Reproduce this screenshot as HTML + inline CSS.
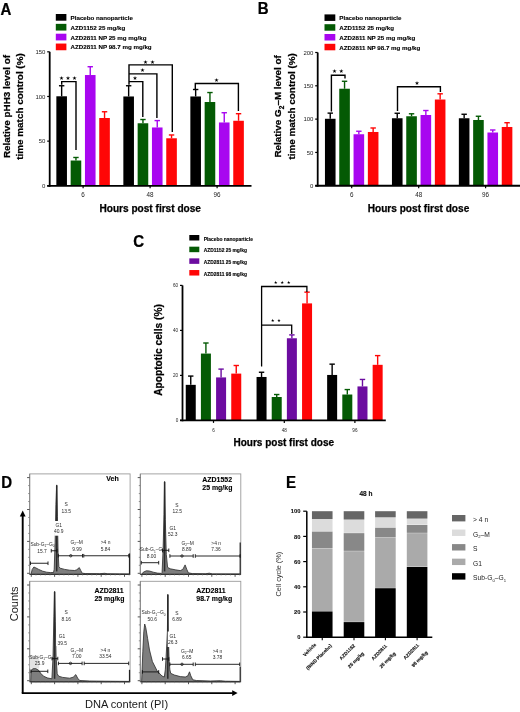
<!DOCTYPE html>
<html><head><meta charset="utf-8"><style>
html,body{margin:0;padding:0;background:#fff;}
svg{display:block;font-family:'Liberation Sans', Arial, sans-serif;}
text.h{stroke:#000;stroke-width:0.25px;}
text.h2{stroke:#000;stroke-width:0.12px;}
</style></head><body>
<svg width="520" height="712" viewBox="0 0 520 712">
<rect width="520" height="712" fill="#fff"/>
<text class="h" x="0" y="0" font-size="16" font-weight="bold" fill="#000" transform="translate(0.40 14.60) scale(0.94 1)">A</text>
<rect x="55.80" y="14.00" width="10.60" height="6.70" fill="#000000"/>
<text class="h2" x="70.60" y="19.90" font-size="6.2" font-weight="bold" text-anchor="start" fill="#000">Placebo nanoparticle</text>
<rect x="55.80" y="23.85" width="10.60" height="6.70" fill="#045a04"/>
<text class="h2" x="70.60" y="29.75" font-size="6.2" font-weight="bold" text-anchor="start" fill="#000">AZD1152 25 mg/kg</text>
<rect x="55.80" y="33.70" width="10.60" height="6.70" fill="#a806f0"/>
<text class="h2" x="70.60" y="39.60" font-size="6.2" font-weight="bold" text-anchor="start" fill="#000">AZD2811 NP 25 mg mg/kg</text>
<rect x="55.80" y="43.55" width="10.60" height="6.70" fill="#ff0606"/>
<text class="h2" x="70.60" y="49.45" font-size="6.2" font-weight="bold" text-anchor="start" fill="#000">AZD2811 NP 98.7 mg mg/kg</text>
<rect x="56.35" y="96.29" width="10.60" height="89.51" fill="#000000"/>
<line x1="61.65" y1="96.29" x2="61.65" y2="85.75" stroke="#000000" stroke-width="1.4"/>
<line x1="58.95" y1="85.75" x2="64.35" y2="85.75" stroke="#000000" stroke-width="1.4"/>
<rect x="70.65" y="160.52" width="10.60" height="25.28" fill="#045a04"/>
<line x1="75.95" y1="160.52" x2="75.95" y2="157.48" stroke="#045a04" stroke-width="1.4"/>
<line x1="73.25" y1="157.48" x2="78.65" y2="157.48" stroke="#045a04" stroke-width="1.4"/>
<rect x="84.95" y="75.03" width="10.60" height="110.77" fill="#a806f0"/>
<line x1="90.25" y1="75.03" x2="90.25" y2="66.72" stroke="#a806f0" stroke-width="1.4"/>
<line x1="87.55" y1="66.72" x2="92.95" y2="66.72" stroke="#a806f0" stroke-width="1.4"/>
<rect x="99.25" y="118.00" width="10.60" height="67.80" fill="#ff0606"/>
<line x1="104.55" y1="118.00" x2="104.55" y2="111.75" stroke="#ff0606" stroke-width="1.4"/>
<line x1="101.85" y1="111.75" x2="107.25" y2="111.75" stroke="#ff0606" stroke-width="1.4"/>
<rect x="123.35" y="96.47" width="10.60" height="89.33" fill="#000000"/>
<line x1="128.65" y1="96.47" x2="128.65" y2="85.75" stroke="#000000" stroke-width="1.4"/>
<line x1="125.95" y1="85.75" x2="131.35" y2="85.75" stroke="#000000" stroke-width="1.4"/>
<rect x="137.65" y="123.27" width="10.60" height="62.53" fill="#045a04"/>
<line x1="142.95" y1="123.27" x2="142.95" y2="119.52" stroke="#045a04" stroke-width="1.4"/>
<line x1="140.25" y1="119.52" x2="145.65" y2="119.52" stroke="#045a04" stroke-width="1.4"/>
<rect x="151.95" y="127.47" width="10.60" height="58.33" fill="#a806f0"/>
<line x1="157.25" y1="127.47" x2="157.25" y2="120.59" stroke="#a806f0" stroke-width="1.4"/>
<line x1="154.55" y1="120.59" x2="159.95" y2="120.59" stroke="#a806f0" stroke-width="1.4"/>
<rect x="166.25" y="138.28" width="10.60" height="47.52" fill="#ff0606"/>
<line x1="171.55" y1="138.28" x2="171.55" y2="134.97" stroke="#ff0606" stroke-width="1.4"/>
<line x1="168.85" y1="134.97" x2="174.25" y2="134.97" stroke="#ff0606" stroke-width="1.4"/>
<rect x="190.35" y="96.47" width="10.60" height="89.33" fill="#000000"/>
<line x1="195.65" y1="96.47" x2="195.65" y2="89.50" stroke="#000000" stroke-width="1.4"/>
<line x1="192.95" y1="89.50" x2="198.35" y2="89.50" stroke="#000000" stroke-width="1.4"/>
<rect x="204.65" y="102.01" width="10.60" height="83.79" fill="#045a04"/>
<line x1="209.95" y1="102.01" x2="209.95" y2="92.54" stroke="#045a04" stroke-width="1.4"/>
<line x1="207.25" y1="92.54" x2="212.65" y2="92.54" stroke="#045a04" stroke-width="1.4"/>
<rect x="218.95" y="122.47" width="10.60" height="63.33" fill="#a806f0"/>
<line x1="224.25" y1="122.47" x2="224.25" y2="112.73" stroke="#a806f0" stroke-width="1.4"/>
<line x1="221.55" y1="112.73" x2="226.95" y2="112.73" stroke="#a806f0" stroke-width="1.4"/>
<rect x="233.25" y="120.77" width="10.60" height="65.03" fill="#ff0606"/>
<line x1="238.55" y1="120.77" x2="238.55" y2="113.71" stroke="#ff0606" stroke-width="1.4"/>
<line x1="235.85" y1="113.71" x2="241.25" y2="113.71" stroke="#ff0606" stroke-width="1.4"/>
<line x1="49.70" y1="51.81" x2="49.70" y2="186.70" stroke="#000" stroke-width="1.8"/>
<line x1="47.20" y1="185.80" x2="251.50" y2="185.80" stroke="#000" stroke-width="1.8"/>
<line x1="47.20" y1="185.80" x2="49.70" y2="185.80" stroke="#000" stroke-width="1.2"/>
<text x="45.40" y="187.96" font-size="6.0" font-weight="normal" text-anchor="end" fill="#222">0</text>
<line x1="47.20" y1="141.14" x2="49.70" y2="141.14" stroke="#000" stroke-width="1.2"/>
<text x="45.40" y="143.30" font-size="6.0" font-weight="normal" text-anchor="end" fill="#222">50</text>
<line x1="47.20" y1="96.47" x2="49.70" y2="96.47" stroke="#000" stroke-width="1.2"/>
<text x="45.40" y="98.63" font-size="6.0" font-weight="normal" text-anchor="end" fill="#222">100</text>
<line x1="47.20" y1="51.81" x2="49.70" y2="51.81" stroke="#000" stroke-width="1.2"/>
<text x="45.40" y="53.97" font-size="6.0" font-weight="normal" text-anchor="end" fill="#222">150</text>
<line x1="83.10" y1="185.80" x2="83.10" y2="188.30" stroke="#000" stroke-width="1.2"/>
<text x="83.10" y="197.00" font-size="6.3" font-weight="normal" text-anchor="middle" fill="#222">6</text>
<line x1="150.10" y1="185.80" x2="150.10" y2="188.30" stroke="#000" stroke-width="1.2"/>
<text x="150.10" y="197.00" font-size="6.3" font-weight="normal" text-anchor="middle" fill="#222">48</text>
<line x1="217.10" y1="185.80" x2="217.10" y2="188.30" stroke="#000" stroke-width="1.2"/>
<text x="217.10" y="197.00" font-size="6.3" font-weight="normal" text-anchor="middle" fill="#222">96</text>
<path d="M61.7,84.75 V81.65 H76.0 V150" fill="none" stroke="#000" stroke-width="1.4"/>
<text x="61.60" y="79.82" font-size="5.6" font-family="DejaVu Sans" text-anchor="middle" fill="#000">★</text>
<text x="68.00" y="79.82" font-size="5.6" font-family="DejaVu Sans" text-anchor="middle" fill="#000">★</text>
<text x="74.60" y="79.82" font-size="5.6" font-family="DejaVu Sans" text-anchor="middle" fill="#000">★</text>
<path d="M129.0,84.75 V64.9 H172.3 V132" fill="none" stroke="#000" stroke-width="1.4"/>
<path d="M129.0,73.9 H156.9 V118" fill="none" stroke="#000" stroke-width="1.4"/>
<path d="M129.0,81.65 H142.8 V117" fill="none" stroke="#000" stroke-width="1.4"/>
<text x="145.60" y="63.52" font-size="5.6" font-family="DejaVu Sans" text-anchor="middle" fill="#000">★</text>
<text x="152.40" y="63.52" font-size="5.6" font-family="DejaVu Sans" text-anchor="middle" fill="#000">★</text>
<text x="142.40" y="72.12" font-size="5.6" font-family="DejaVu Sans" text-anchor="middle" fill="#000">★</text>
<text x="135.10" y="80.22" font-size="5.6" font-family="DejaVu Sans" text-anchor="middle" fill="#000">★</text>
<path d="M195.3,89 V83.5 H238.4 V111" fill="none" stroke="#000" stroke-width="1.4"/>
<text x="216.60" y="82.12" font-size="5.6" font-family="DejaVu Sans" text-anchor="middle" fill="#000">★</text>
<text class="h" x="10.30" y="106.50" font-size="9.9" font-weight="bold" text-anchor="middle" fill="#000" transform="rotate(-90 10.3 106.5)">Relative pHH3 level of</text>
<text class="h" x="23.00" y="106.50" font-size="9.9" font-weight="bold" text-anchor="middle" fill="#000" transform="rotate(-90 23.0 106.5)">time match control (%)</text>
<text class="h" x="150.20" y="212.40" font-size="10.1" font-weight="bold" text-anchor="middle" fill="#000">Hours post first dose</text>
<text class="h" x="0" y="0" font-size="16" font-weight="bold" fill="#000" transform="translate(257.80 13.50) scale(0.94 1)">B</text>
<rect x="324.50" y="14.40" width="10.80" height="6.50" fill="#000000"/>
<text class="h2" x="339.30" y="20.30" font-size="6.2" font-weight="bold" text-anchor="start" fill="#000">Placebo nanoparticle</text>
<rect x="324.50" y="24.20" width="10.80" height="6.50" fill="#045a04"/>
<text class="h2" x="339.30" y="30.10" font-size="6.2" font-weight="bold" text-anchor="start" fill="#000">AZD1152 25 mg/kg</text>
<rect x="324.50" y="34.00" width="10.80" height="6.50" fill="#a806f0"/>
<text class="h2" x="339.30" y="39.90" font-size="6.2" font-weight="bold" text-anchor="start" fill="#000">AZD2811 NP 25 mg mg/kg</text>
<rect x="324.50" y="43.80" width="10.80" height="6.50" fill="#ff0606"/>
<text class="h2" x="339.30" y="49.70" font-size="6.2" font-weight="bold" text-anchor="start" fill="#000">AZD2811 NP 98.7 mg mg/kg</text>
<rect x="324.95" y="118.79" width="10.60" height="66.96" fill="#000000"/>
<line x1="330.25" y1="118.79" x2="330.25" y2="113.12" stroke="#000000" stroke-width="1.4"/>
<line x1="327.55" y1="113.12" x2="332.95" y2="113.12" stroke="#000000" stroke-width="1.4"/>
<rect x="339.25" y="88.74" width="10.60" height="97.01" fill="#045a04"/>
<line x1="344.55" y1="88.74" x2="344.55" y2="81.27" stroke="#045a04" stroke-width="1.4"/>
<line x1="341.85" y1="81.27" x2="347.25" y2="81.27" stroke="#045a04" stroke-width="1.4"/>
<rect x="353.55" y="134.25" width="10.60" height="51.50" fill="#a806f0"/>
<line x1="358.85" y1="134.25" x2="358.85" y2="131.25" stroke="#a806f0" stroke-width="1.4"/>
<line x1="356.15" y1="131.25" x2="361.55" y2="131.25" stroke="#a806f0" stroke-width="1.4"/>
<rect x="367.85" y="131.98" width="10.60" height="53.77" fill="#ff0606"/>
<line x1="373.15" y1="131.98" x2="373.15" y2="127.98" stroke="#ff0606" stroke-width="1.4"/>
<line x1="370.45" y1="127.98" x2="375.85" y2="127.98" stroke="#ff0606" stroke-width="1.4"/>
<rect x="391.95" y="118.25" width="10.60" height="67.50" fill="#000000"/>
<line x1="397.25" y1="118.25" x2="397.25" y2="113.26" stroke="#000000" stroke-width="1.4"/>
<line x1="394.55" y1="113.26" x2="399.95" y2="113.26" stroke="#000000" stroke-width="1.4"/>
<rect x="406.25" y="116.25" width="10.60" height="69.50" fill="#045a04"/>
<line x1="411.55" y1="116.25" x2="411.55" y2="113.79" stroke="#045a04" stroke-width="1.4"/>
<line x1="408.85" y1="113.79" x2="414.25" y2="113.79" stroke="#045a04" stroke-width="1.4"/>
<rect x="420.55" y="114.99" width="10.60" height="70.76" fill="#a806f0"/>
<line x1="425.85" y1="114.99" x2="425.85" y2="110.52" stroke="#a806f0" stroke-width="1.4"/>
<line x1="423.15" y1="110.52" x2="428.55" y2="110.52" stroke="#a806f0" stroke-width="1.4"/>
<rect x="434.85" y="99.53" width="10.60" height="86.22" fill="#ff0606"/>
<line x1="440.15" y1="99.53" x2="440.15" y2="93.80" stroke="#ff0606" stroke-width="1.4"/>
<line x1="437.45" y1="93.80" x2="442.85" y2="93.80" stroke="#ff0606" stroke-width="1.4"/>
<rect x="458.85" y="118.25" width="10.60" height="67.50" fill="#000000"/>
<line x1="464.15" y1="118.25" x2="464.15" y2="114.26" stroke="#000000" stroke-width="1.4"/>
<line x1="461.45" y1="114.26" x2="466.85" y2="114.26" stroke="#000000" stroke-width="1.4"/>
<rect x="473.15" y="119.99" width="10.60" height="65.76" fill="#045a04"/>
<line x1="478.45" y1="119.99" x2="478.45" y2="116.25" stroke="#045a04" stroke-width="1.4"/>
<line x1="475.75" y1="116.25" x2="481.15" y2="116.25" stroke="#045a04" stroke-width="1.4"/>
<rect x="487.45" y="132.51" width="10.60" height="53.24" fill="#a806f0"/>
<line x1="492.75" y1="132.51" x2="492.75" y2="129.98" stroke="#a806f0" stroke-width="1.4"/>
<line x1="490.05" y1="129.98" x2="495.45" y2="129.98" stroke="#a806f0" stroke-width="1.4"/>
<rect x="501.75" y="126.98" width="10.60" height="58.77" fill="#ff0606"/>
<line x1="507.05" y1="126.98" x2="507.05" y2="122.72" stroke="#ff0606" stroke-width="1.4"/>
<line x1="504.35" y1="122.72" x2="509.75" y2="122.72" stroke="#ff0606" stroke-width="1.4"/>
<line x1="317.70" y1="52.49" x2="317.70" y2="186.65" stroke="#000" stroke-width="1.8"/>
<line x1="315.20" y1="185.75" x2="520.00" y2="185.75" stroke="#000" stroke-width="1.8"/>
<line x1="315.20" y1="185.75" x2="317.70" y2="185.75" stroke="#000" stroke-width="1.2"/>
<text x="313.40" y="187.91" font-size="6.0" font-weight="normal" text-anchor="end" fill="#222">0</text>
<line x1="315.20" y1="152.44" x2="317.70" y2="152.44" stroke="#000" stroke-width="1.2"/>
<text x="313.40" y="154.59" font-size="6.0" font-weight="normal" text-anchor="end" fill="#222">50</text>
<line x1="315.20" y1="119.12" x2="317.70" y2="119.12" stroke="#000" stroke-width="1.2"/>
<text x="313.40" y="121.28" font-size="6.0" font-weight="normal" text-anchor="end" fill="#222">100</text>
<line x1="315.20" y1="85.80" x2="317.70" y2="85.80" stroke="#000" stroke-width="1.2"/>
<text x="313.40" y="87.96" font-size="6.0" font-weight="normal" text-anchor="end" fill="#222">150</text>
<line x1="315.20" y1="52.49" x2="317.70" y2="52.49" stroke="#000" stroke-width="1.2"/>
<text x="313.40" y="54.65" font-size="6.0" font-weight="normal" text-anchor="end" fill="#222">200</text>
<line x1="351.70" y1="185.75" x2="351.70" y2="188.25" stroke="#000" stroke-width="1.2"/>
<text x="351.70" y="196.95" font-size="6.3" font-weight="normal" text-anchor="middle" fill="#222">6</text>
<line x1="418.70" y1="185.75" x2="418.70" y2="188.25" stroke="#000" stroke-width="1.2"/>
<text x="418.70" y="196.95" font-size="6.3" font-weight="normal" text-anchor="middle" fill="#222">48</text>
<line x1="485.60" y1="185.75" x2="485.60" y2="188.25" stroke="#000" stroke-width="1.2"/>
<text x="485.60" y="196.95" font-size="6.3" font-weight="normal" text-anchor="middle" fill="#222">96</text>
<path d="M331.4,111.5 V75.2 H345.0 V78.6" fill="none" stroke="#000" stroke-width="1.4"/>
<text x="334.60" y="73.12" font-size="5.6" font-family="DejaVu Sans" text-anchor="middle" fill="#000">★</text>
<text x="341.20" y="73.12" font-size="5.6" font-family="DejaVu Sans" text-anchor="middle" fill="#000">★</text>
<path d="M397.5,111 V86.8 H440.4 V92" fill="none" stroke="#000" stroke-width="1.4"/>
<text x="417.10" y="84.82" font-size="5.6" font-family="DejaVu Sans" text-anchor="middle" fill="#000">★</text>
<text class="h" x="281.40" y="106.30" font-size="9.9" font-weight="bold" text-anchor="middle" fill="#000" transform="rotate(-90 281.4 106.3)">Relative G<tspan dy="2.2" font-size="6.5">2</tspan><tspan dy="-2.2">–M level of</tspan></text>
<text class="h" x="295.00" y="106.30" font-size="9.9" font-weight="bold" text-anchor="middle" fill="#000" transform="rotate(-90 295 106.3)">time match control (%)</text>
<text class="h" x="418.50" y="212.40" font-size="10.1" font-weight="bold" text-anchor="middle" fill="#000">Hours post first dose</text>
<text class="h" x="0" y="0" font-size="16" font-weight="bold" fill="#000" transform="translate(133.20 246.60) scale(0.94 1)">C</text>
<rect x="189.30" y="235.00" width="10.00" height="5.50" fill="#000000"/>
<text class="h2" x="203.70" y="240.60" font-size="4.9" font-weight="bold" text-anchor="start" fill="#000">Placebo nanoparticle</text>
<rect x="189.30" y="246.68" width="10.00" height="5.50" fill="#045a04"/>
<text class="h2" x="203.70" y="252.28" font-size="4.9" font-weight="bold" text-anchor="start" fill="#000">AZD1152 25 mg/kg</text>
<rect x="189.30" y="258.36" width="10.00" height="5.50" fill="#6c0ca0"/>
<text class="h2" x="203.70" y="263.96" font-size="4.9" font-weight="bold" text-anchor="start" fill="#000">AZD2811 25 mg/kg</text>
<rect x="189.30" y="270.04" width="10.00" height="5.50" fill="#ff0606"/>
<text class="h2" x="203.70" y="275.64" font-size="4.9" font-weight="bold" text-anchor="start" fill="#000">AZD2811 98 mg/kg</text>
<rect x="185.75" y="384.85" width="10.00" height="35.55" fill="#000000"/>
<line x1="190.75" y1="384.85" x2="190.75" y2="376.07" stroke="#000000" stroke-width="1.4"/>
<line x1="188.05" y1="376.07" x2="193.44" y2="376.07" stroke="#000000" stroke-width="1.4"/>
<rect x="200.91" y="353.57" width="10.00" height="66.82" fill="#045a04"/>
<line x1="205.91" y1="353.57" x2="205.91" y2="343.00" stroke="#045a04" stroke-width="1.4"/>
<line x1="203.22" y1="343.00" x2="208.61" y2="343.00" stroke="#045a04" stroke-width="1.4"/>
<rect x="216.09" y="377.42" width="10.00" height="42.98" fill="#6c0ca0"/>
<line x1="221.09" y1="377.42" x2="221.09" y2="369.10" stroke="#6c0ca0" stroke-width="1.4"/>
<line x1="218.39" y1="369.10" x2="223.78" y2="369.10" stroke="#6c0ca0" stroke-width="1.4"/>
<rect x="231.25" y="373.60" width="10.00" height="46.80" fill="#ff0606"/>
<line x1="236.25" y1="373.60" x2="236.25" y2="365.50" stroke="#ff0606" stroke-width="1.4"/>
<line x1="233.56" y1="365.50" x2="238.95" y2="365.50" stroke="#ff0606" stroke-width="1.4"/>
<rect x="256.55" y="376.97" width="10.00" height="43.43" fill="#000000"/>
<line x1="261.55" y1="376.97" x2="261.55" y2="372.25" stroke="#000000" stroke-width="1.4"/>
<line x1="258.85" y1="372.25" x2="264.25" y2="372.25" stroke="#000000" stroke-width="1.4"/>
<rect x="271.72" y="397.00" width="10.00" height="23.40" fill="#045a04"/>
<line x1="276.72" y1="397.00" x2="276.72" y2="394.52" stroke="#045a04" stroke-width="1.4"/>
<line x1="274.02" y1="394.52" x2="279.42" y2="394.52" stroke="#045a04" stroke-width="1.4"/>
<rect x="286.88" y="338.27" width="10.00" height="82.12" fill="#6c0ca0"/>
<line x1="291.88" y1="338.27" x2="291.88" y2="334.90" stroke="#6c0ca0" stroke-width="1.4"/>
<line x1="289.19" y1="334.90" x2="294.58" y2="334.90" stroke="#6c0ca0" stroke-width="1.4"/>
<rect x="302.06" y="303.40" width="10.00" height="117.00" fill="#ff0606"/>
<line x1="307.06" y1="303.40" x2="307.06" y2="292.15" stroke="#ff0606" stroke-width="1.4"/>
<line x1="304.36" y1="292.15" x2="309.75" y2="292.15" stroke="#ff0606" stroke-width="1.4"/>
<rect x="327.14" y="374.95" width="10.00" height="45.45" fill="#000000"/>
<line x1="332.14" y1="374.95" x2="332.14" y2="364.15" stroke="#000000" stroke-width="1.4"/>
<line x1="329.44" y1="364.15" x2="334.84" y2="364.15" stroke="#000000" stroke-width="1.4"/>
<rect x="342.31" y="394.52" width="10.00" height="25.88" fill="#045a04"/>
<line x1="347.31" y1="394.52" x2="347.31" y2="389.57" stroke="#045a04" stroke-width="1.4"/>
<line x1="344.62" y1="389.57" x2="350.01" y2="389.57" stroke="#045a04" stroke-width="1.4"/>
<rect x="357.48" y="386.42" width="10.00" height="33.98" fill="#6c0ca0"/>
<line x1="362.48" y1="386.42" x2="362.48" y2="379.45" stroke="#6c0ca0" stroke-width="1.4"/>
<line x1="359.78" y1="379.45" x2="365.18" y2="379.45" stroke="#6c0ca0" stroke-width="1.4"/>
<rect x="372.65" y="364.82" width="10.00" height="55.57" fill="#ff0606"/>
<line x1="377.65" y1="364.82" x2="377.65" y2="355.60" stroke="#ff0606" stroke-width="1.4"/>
<line x1="374.95" y1="355.60" x2="380.35" y2="355.60" stroke="#ff0606" stroke-width="1.4"/>
<line x1="182.50" y1="285.40" x2="182.50" y2="421.30" stroke="#000" stroke-width="1.8"/>
<line x1="180.00" y1="420.40" x2="385.80" y2="420.40" stroke="#000" stroke-width="1.8"/>
<line x1="180.00" y1="420.40" x2="182.50" y2="420.40" stroke="#000" stroke-width="1.2"/>
<text x="178.20" y="422.06" font-size="4.6" font-weight="normal" text-anchor="end" fill="#222">0</text>
<line x1="180.00" y1="375.40" x2="182.50" y2="375.40" stroke="#000" stroke-width="1.2"/>
<text x="178.20" y="377.06" font-size="4.6" font-weight="normal" text-anchor="end" fill="#222">20</text>
<line x1="180.00" y1="330.40" x2="182.50" y2="330.40" stroke="#000" stroke-width="1.2"/>
<text x="178.20" y="332.06" font-size="4.6" font-weight="normal" text-anchor="end" fill="#222">40</text>
<line x1="180.00" y1="285.40" x2="182.50" y2="285.40" stroke="#000" stroke-width="1.2"/>
<text x="178.20" y="287.06" font-size="4.6" font-weight="normal" text-anchor="end" fill="#222">60</text>
<line x1="213.50" y1="420.40" x2="213.50" y2="422.90" stroke="#000" stroke-width="1.2"/>
<text x="213.50" y="431.70" font-size="4.6" font-weight="normal" text-anchor="middle" fill="#222">6</text>
<line x1="284.30" y1="420.40" x2="284.30" y2="422.90" stroke="#000" stroke-width="1.2"/>
<text x="284.30" y="431.70" font-size="4.6" font-weight="normal" text-anchor="middle" fill="#222">48</text>
<line x1="354.90" y1="420.40" x2="354.90" y2="422.90" stroke="#000" stroke-width="1.2"/>
<text x="354.90" y="431.70" font-size="4.6" font-weight="normal" text-anchor="middle" fill="#222">96</text>
<path d="M261.6,366.5 V286.5 H306.9 V292" fill="none" stroke="#000" stroke-width="1.3"/>
<path d="M261.6,325.2 H291.7 V334" fill="none" stroke="#000" stroke-width="1.3"/>
<text x="275.80" y="284.38" font-size="4.4" font-family="DejaVu Sans" text-anchor="middle" fill="#000">★</text>
<text x="282.30" y="284.38" font-size="4.4" font-family="DejaVu Sans" text-anchor="middle" fill="#000">★</text>
<text x="288.70" y="284.38" font-size="4.4" font-family="DejaVu Sans" text-anchor="middle" fill="#000">★</text>
<text x="272.70" y="322.38" font-size="4.4" font-family="DejaVu Sans" text-anchor="middle" fill="#000">★</text>
<text x="278.90" y="322.38" font-size="4.4" font-family="DejaVu Sans" text-anchor="middle" fill="#000">★</text>
<text class="h" x="162.30" y="350.00" font-size="10.2" font-weight="bold" text-anchor="middle" fill="#000" transform="rotate(-90 162.3 350)">Apoptotic cells  (%)</text>
<text class="h" x="283.80" y="445.80" font-size="10.0" font-weight="bold" text-anchor="middle" fill="#000">Hours post first dose</text>
<text class="h" x="0" y="0" font-size="16" font-weight="bold" fill="#000" transform="translate(1.20 487.50) scale(0.94 1)">D</text>
<rect x="29.70" y="473.90" width="100.40" height="100.50" fill="none" stroke="#9a9a9a" stroke-width="0.9"/>
<line x1="29.70" y1="473.90" x2="29.70" y2="574.40" stroke="#777" stroke-width="0.8"/>
<line x1="27.10" y1="573.30" x2="29.70" y2="573.30" stroke="#555" stroke-width="1.0"/>
<line x1="28.20" y1="565.32" x2="29.70" y2="565.32" stroke="#777" stroke-width="0.8"/>
<line x1="28.20" y1="557.35" x2="29.70" y2="557.35" stroke="#777" stroke-width="0.8"/>
<line x1="28.20" y1="549.38" x2="29.70" y2="549.38" stroke="#777" stroke-width="0.8"/>
<line x1="27.10" y1="541.40" x2="29.70" y2="541.40" stroke="#555" stroke-width="1.0"/>
<line x1="28.20" y1="533.42" x2="29.70" y2="533.42" stroke="#777" stroke-width="0.8"/>
<line x1="28.20" y1="525.45" x2="29.70" y2="525.45" stroke="#777" stroke-width="0.8"/>
<line x1="28.20" y1="517.48" x2="29.70" y2="517.48" stroke="#777" stroke-width="0.8"/>
<line x1="27.10" y1="509.50" x2="29.70" y2="509.50" stroke="#555" stroke-width="1.0"/>
<line x1="28.20" y1="501.52" x2="29.70" y2="501.52" stroke="#777" stroke-width="0.8"/>
<line x1="28.20" y1="493.55" x2="29.70" y2="493.55" stroke="#777" stroke-width="0.8"/>
<line x1="28.20" y1="485.57" x2="29.70" y2="485.57" stroke="#777" stroke-width="0.8"/>
<line x1="27.10" y1="477.60" x2="29.70" y2="477.60" stroke="#555" stroke-width="1.0"/>
<path d="M31.00,574.40 L31.00,574.40 L32.20,569.40 L33.90,567.00 L35.70,567.80 L38.70,569.40 L42.70,571.20 L46.70,572.20 L50.70,572.60 L53.50,572.50 L54.20,569.40 L55.10,542.40 L55.90,504.40 L56.70,484.90 L57.40,516.40 L58.10,552.40 L58.90,566.90 L60.20,568.20 L64.70,569.40 L69.70,570.20 L74.70,570.50 L76.70,569.80 L79.30,567.60 L80.70,570.40 L82.20,573.20 L85.70,573.60 L99.70,573.70 L104.70,573.30 L107.70,573.80 L119.70,573.90 L129.30,574.00 L129.30,574.40 Z" fill="#7e7e7e" stroke="#2a2a2a" stroke-width="0.8" stroke-linejoin="round"/>
<line x1="56.70" y1="485.40" x2="56.70" y2="571.40" stroke="#2a2a2a" stroke-width="1.5"/>
<line x1="129.50" y1="553.40" x2="129.50" y2="574.40" stroke="#222" stroke-width="1.2"/>
<line x1="29.70" y1="574.40" x2="130.10" y2="574.40" stroke="#333" stroke-width="1.1"/>
<line x1="31.30" y1="574.40" x2="31.30" y2="576.80" stroke="#444" stroke-width="0.9"/>
<line x1="35.96" y1="574.40" x2="35.96" y2="575.70" stroke="#888" stroke-width="0.6"/>
<line x1="40.62" y1="574.40" x2="40.62" y2="575.70" stroke="#888" stroke-width="0.6"/>
<line x1="45.28" y1="574.40" x2="45.28" y2="575.70" stroke="#888" stroke-width="0.6"/>
<line x1="49.94" y1="574.40" x2="49.94" y2="575.70" stroke="#888" stroke-width="0.6"/>
<line x1="54.60" y1="574.40" x2="54.60" y2="576.80" stroke="#444" stroke-width="0.9"/>
<line x1="59.26" y1="574.40" x2="59.26" y2="575.70" stroke="#888" stroke-width="0.6"/>
<line x1="63.92" y1="574.40" x2="63.92" y2="575.70" stroke="#888" stroke-width="0.6"/>
<line x1="68.58" y1="574.40" x2="68.58" y2="575.70" stroke="#888" stroke-width="0.6"/>
<line x1="73.24" y1="574.40" x2="73.24" y2="575.70" stroke="#888" stroke-width="0.6"/>
<line x1="77.90" y1="574.40" x2="77.90" y2="576.80" stroke="#444" stroke-width="0.9"/>
<line x1="82.56" y1="574.40" x2="82.56" y2="575.70" stroke="#888" stroke-width="0.6"/>
<line x1="87.22" y1="574.40" x2="87.22" y2="575.70" stroke="#888" stroke-width="0.6"/>
<line x1="91.88" y1="574.40" x2="91.88" y2="575.70" stroke="#888" stroke-width="0.6"/>
<line x1="96.54" y1="574.40" x2="96.54" y2="575.70" stroke="#888" stroke-width="0.6"/>
<line x1="101.20" y1="574.40" x2="101.20" y2="576.80" stroke="#444" stroke-width="0.9"/>
<line x1="105.86" y1="574.40" x2="105.86" y2="575.70" stroke="#888" stroke-width="0.6"/>
<line x1="110.52" y1="574.40" x2="110.52" y2="575.70" stroke="#888" stroke-width="0.6"/>
<line x1="115.18" y1="574.40" x2="115.18" y2="575.70" stroke="#888" stroke-width="0.6"/>
<line x1="119.84" y1="574.40" x2="119.84" y2="575.70" stroke="#888" stroke-width="0.6"/>
<line x1="124.50" y1="574.40" x2="124.50" y2="576.80" stroke="#444" stroke-width="0.9"/>
<line x1="129.16" y1="574.40" x2="129.16" y2="575.70" stroke="#888" stroke-width="0.6"/>
<rect x="140.30" y="473.90" width="100.50" height="100.50" fill="none" stroke="#9a9a9a" stroke-width="0.9"/>
<line x1="140.30" y1="473.90" x2="140.30" y2="574.40" stroke="#777" stroke-width="0.8"/>
<line x1="137.70" y1="573.30" x2="140.30" y2="573.30" stroke="#555" stroke-width="1.0"/>
<line x1="138.80" y1="565.32" x2="140.30" y2="565.32" stroke="#777" stroke-width="0.8"/>
<line x1="138.80" y1="557.35" x2="140.30" y2="557.35" stroke="#777" stroke-width="0.8"/>
<line x1="138.80" y1="549.38" x2="140.30" y2="549.38" stroke="#777" stroke-width="0.8"/>
<line x1="137.70" y1="541.40" x2="140.30" y2="541.40" stroke="#555" stroke-width="1.0"/>
<line x1="138.80" y1="533.42" x2="140.30" y2="533.42" stroke="#777" stroke-width="0.8"/>
<line x1="138.80" y1="525.45" x2="140.30" y2="525.45" stroke="#777" stroke-width="0.8"/>
<line x1="138.80" y1="517.48" x2="140.30" y2="517.48" stroke="#777" stroke-width="0.8"/>
<line x1="137.70" y1="509.50" x2="140.30" y2="509.50" stroke="#555" stroke-width="1.0"/>
<line x1="138.80" y1="501.52" x2="140.30" y2="501.52" stroke="#777" stroke-width="0.8"/>
<line x1="138.80" y1="493.55" x2="140.30" y2="493.55" stroke="#777" stroke-width="0.8"/>
<line x1="138.80" y1="485.57" x2="140.30" y2="485.57" stroke="#777" stroke-width="0.8"/>
<line x1="137.70" y1="477.60" x2="140.30" y2="477.60" stroke="#555" stroke-width="1.0"/>
<path d="M141.60,574.40 L141.60,574.40 L143.30,572.20 L146.30,570.80 L149.30,571.00 L153.30,572.20 L157.30,573.10 L161.30,573.40 L162.10,572.40 L163.10,549.40 L164.00,514.40 L164.60,481.40 L165.30,519.40 L166.30,554.40 L167.60,567.40 L170.30,568.80 L175.30,569.80 L180.30,570.60 L182.80,569.40 L185.10,564.90 L186.80,569.40 L188.30,572.80 L192.30,573.60 L205.30,573.80 L209.30,573.20 L212.30,573.90 L239.90,574.00 L239.90,574.40 Z" fill="#7e7e7e" stroke="#2a2a2a" stroke-width="0.8" stroke-linejoin="round"/>
<line x1="164.60" y1="481.90" x2="164.60" y2="571.40" stroke="#2a2a2a" stroke-width="1.5"/>
<line x1="240.20" y1="542.40" x2="240.20" y2="574.40" stroke="#222" stroke-width="1.2"/>
<line x1="140.30" y1="574.40" x2="240.80" y2="574.40" stroke="#333" stroke-width="1.1"/>
<line x1="141.90" y1="574.40" x2="141.90" y2="576.80" stroke="#444" stroke-width="0.9"/>
<line x1="146.56" y1="574.40" x2="146.56" y2="575.70" stroke="#888" stroke-width="0.6"/>
<line x1="151.22" y1="574.40" x2="151.22" y2="575.70" stroke="#888" stroke-width="0.6"/>
<line x1="155.88" y1="574.40" x2="155.88" y2="575.70" stroke="#888" stroke-width="0.6"/>
<line x1="160.54" y1="574.40" x2="160.54" y2="575.70" stroke="#888" stroke-width="0.6"/>
<line x1="165.20" y1="574.40" x2="165.20" y2="576.80" stroke="#444" stroke-width="0.9"/>
<line x1="169.86" y1="574.40" x2="169.86" y2="575.70" stroke="#888" stroke-width="0.6"/>
<line x1="174.52" y1="574.40" x2="174.52" y2="575.70" stroke="#888" stroke-width="0.6"/>
<line x1="179.18" y1="574.40" x2="179.18" y2="575.70" stroke="#888" stroke-width="0.6"/>
<line x1="183.84" y1="574.40" x2="183.84" y2="575.70" stroke="#888" stroke-width="0.6"/>
<line x1="188.50" y1="574.40" x2="188.50" y2="576.80" stroke="#444" stroke-width="0.9"/>
<line x1="193.16" y1="574.40" x2="193.16" y2="575.70" stroke="#888" stroke-width="0.6"/>
<line x1="197.82" y1="574.40" x2="197.82" y2="575.70" stroke="#888" stroke-width="0.6"/>
<line x1="202.48" y1="574.40" x2="202.48" y2="575.70" stroke="#888" stroke-width="0.6"/>
<line x1="207.14" y1="574.40" x2="207.14" y2="575.70" stroke="#888" stroke-width="0.6"/>
<line x1="211.80" y1="574.40" x2="211.80" y2="576.80" stroke="#444" stroke-width="0.9"/>
<line x1="216.46" y1="574.40" x2="216.46" y2="575.70" stroke="#888" stroke-width="0.6"/>
<line x1="221.12" y1="574.40" x2="221.12" y2="575.70" stroke="#888" stroke-width="0.6"/>
<line x1="225.78" y1="574.40" x2="225.78" y2="575.70" stroke="#888" stroke-width="0.6"/>
<line x1="230.44" y1="574.40" x2="230.44" y2="575.70" stroke="#888" stroke-width="0.6"/>
<line x1="235.10" y1="574.40" x2="235.10" y2="576.80" stroke="#444" stroke-width="0.9"/>
<line x1="239.76" y1="574.40" x2="239.76" y2="575.70" stroke="#888" stroke-width="0.6"/>
<rect x="29.70" y="581.30" width="100.40" height="100.50" fill="none" stroke="#9a9a9a" stroke-width="0.9"/>
<line x1="29.70" y1="581.30" x2="29.70" y2="681.80" stroke="#777" stroke-width="0.8"/>
<line x1="27.10" y1="680.70" x2="29.70" y2="680.70" stroke="#555" stroke-width="1.0"/>
<line x1="28.20" y1="672.72" x2="29.70" y2="672.72" stroke="#777" stroke-width="0.8"/>
<line x1="28.20" y1="664.75" x2="29.70" y2="664.75" stroke="#777" stroke-width="0.8"/>
<line x1="28.20" y1="656.77" x2="29.70" y2="656.77" stroke="#777" stroke-width="0.8"/>
<line x1="27.10" y1="648.80" x2="29.70" y2="648.80" stroke="#555" stroke-width="1.0"/>
<line x1="28.20" y1="640.82" x2="29.70" y2="640.82" stroke="#777" stroke-width="0.8"/>
<line x1="28.20" y1="632.85" x2="29.70" y2="632.85" stroke="#777" stroke-width="0.8"/>
<line x1="28.20" y1="624.88" x2="29.70" y2="624.88" stroke="#777" stroke-width="0.8"/>
<line x1="27.10" y1="616.90" x2="29.70" y2="616.90" stroke="#555" stroke-width="1.0"/>
<line x1="28.20" y1="608.92" x2="29.70" y2="608.92" stroke="#777" stroke-width="0.8"/>
<line x1="28.20" y1="600.95" x2="29.70" y2="600.95" stroke="#777" stroke-width="0.8"/>
<line x1="28.20" y1="592.98" x2="29.70" y2="592.98" stroke="#777" stroke-width="0.8"/>
<line x1="27.10" y1="585.00" x2="29.70" y2="585.00" stroke="#555" stroke-width="1.0"/>
<rect x="29.7" y="655.5" width="9.5" height="13" fill="#e2e2e2"/>
<path d="M30.70,681.80 L30.70,681.80 L31.00,670.80 L32.70,668.80 L35.70,668.60 L38.70,670.30 L40.70,673.30 L43.70,676.30 L47.70,678.00 L51.90,678.80 L53.00,656.80 L53.90,616.80 L54.60,591.30 L55.30,621.80 L56.10,656.80 L57.20,673.80 L58.70,676.20 L62.70,677.40 L69.70,678.20 L73.20,677.20 L75.80,674.60 L77.70,678.20 L79.70,680.50 L89.70,681.00 L104.70,681.20 L129.30,681.40 L129.30,681.80 Z" fill="#7e7e7e" stroke="#2a2a2a" stroke-width="0.8" stroke-linejoin="round"/>
<line x1="54.60" y1="591.80" x2="54.60" y2="678.80" stroke="#2a2a2a" stroke-width="1.5"/>
<line x1="129.50" y1="669.80" x2="129.50" y2="681.80" stroke="#222" stroke-width="1.2"/>
<line x1="29.70" y1="681.80" x2="130.10" y2="681.80" stroke="#333" stroke-width="1.1"/>
<line x1="31.30" y1="681.80" x2="31.30" y2="684.20" stroke="#444" stroke-width="0.9"/>
<line x1="35.96" y1="681.80" x2="35.96" y2="683.10" stroke="#888" stroke-width="0.6"/>
<line x1="40.62" y1="681.80" x2="40.62" y2="683.10" stroke="#888" stroke-width="0.6"/>
<line x1="45.28" y1="681.80" x2="45.28" y2="683.10" stroke="#888" stroke-width="0.6"/>
<line x1="49.94" y1="681.80" x2="49.94" y2="683.10" stroke="#888" stroke-width="0.6"/>
<line x1="54.60" y1="681.80" x2="54.60" y2="684.20" stroke="#444" stroke-width="0.9"/>
<line x1="59.26" y1="681.80" x2="59.26" y2="683.10" stroke="#888" stroke-width="0.6"/>
<line x1="63.92" y1="681.80" x2="63.92" y2="683.10" stroke="#888" stroke-width="0.6"/>
<line x1="68.58" y1="681.80" x2="68.58" y2="683.10" stroke="#888" stroke-width="0.6"/>
<line x1="73.24" y1="681.80" x2="73.24" y2="683.10" stroke="#888" stroke-width="0.6"/>
<line x1="77.90" y1="681.80" x2="77.90" y2="684.20" stroke="#444" stroke-width="0.9"/>
<line x1="82.56" y1="681.80" x2="82.56" y2="683.10" stroke="#888" stroke-width="0.6"/>
<line x1="87.22" y1="681.80" x2="87.22" y2="683.10" stroke="#888" stroke-width="0.6"/>
<line x1="91.88" y1="681.80" x2="91.88" y2="683.10" stroke="#888" stroke-width="0.6"/>
<line x1="96.54" y1="681.80" x2="96.54" y2="683.10" stroke="#888" stroke-width="0.6"/>
<line x1="101.20" y1="681.80" x2="101.20" y2="684.20" stroke="#444" stroke-width="0.9"/>
<line x1="105.86" y1="681.80" x2="105.86" y2="683.10" stroke="#888" stroke-width="0.6"/>
<line x1="110.52" y1="681.80" x2="110.52" y2="683.10" stroke="#888" stroke-width="0.6"/>
<line x1="115.18" y1="681.80" x2="115.18" y2="683.10" stroke="#888" stroke-width="0.6"/>
<line x1="119.84" y1="681.80" x2="119.84" y2="683.10" stroke="#888" stroke-width="0.6"/>
<line x1="124.50" y1="681.80" x2="124.50" y2="684.20" stroke="#444" stroke-width="0.9"/>
<line x1="129.16" y1="681.80" x2="129.16" y2="683.10" stroke="#888" stroke-width="0.6"/>
<rect x="140.30" y="581.30" width="100.50" height="100.50" fill="none" stroke="#9a9a9a" stroke-width="0.9"/>
<line x1="140.30" y1="581.30" x2="140.30" y2="681.80" stroke="#777" stroke-width="0.8"/>
<line x1="137.70" y1="680.70" x2="140.30" y2="680.70" stroke="#555" stroke-width="1.0"/>
<line x1="138.80" y1="672.72" x2="140.30" y2="672.72" stroke="#777" stroke-width="0.8"/>
<line x1="138.80" y1="664.75" x2="140.30" y2="664.75" stroke="#777" stroke-width="0.8"/>
<line x1="138.80" y1="656.77" x2="140.30" y2="656.77" stroke="#777" stroke-width="0.8"/>
<line x1="137.70" y1="648.80" x2="140.30" y2="648.80" stroke="#555" stroke-width="1.0"/>
<line x1="138.80" y1="640.82" x2="140.30" y2="640.82" stroke="#777" stroke-width="0.8"/>
<line x1="138.80" y1="632.85" x2="140.30" y2="632.85" stroke="#777" stroke-width="0.8"/>
<line x1="138.80" y1="624.88" x2="140.30" y2="624.88" stroke="#777" stroke-width="0.8"/>
<line x1="137.70" y1="616.90" x2="140.30" y2="616.90" stroke="#555" stroke-width="1.0"/>
<line x1="138.80" y1="608.92" x2="140.30" y2="608.92" stroke="#777" stroke-width="0.8"/>
<line x1="138.80" y1="600.95" x2="140.30" y2="600.95" stroke="#777" stroke-width="0.8"/>
<line x1="138.80" y1="592.98" x2="140.30" y2="592.98" stroke="#777" stroke-width="0.8"/>
<line x1="137.70" y1="585.00" x2="140.30" y2="585.00" stroke="#555" stroke-width="1.0"/>
<path d="M141.60,681.80 L141.60,681.80 L142.80,651.80 L143.80,631.80 L144.70,624.00 L145.80,627.80 L147.60,638.50 L149.50,650.00 L152.40,661.50 L157.20,671.00 L162.00,676.00 L164.30,677.00 L165.30,669.80 L166.10,656.80 L166.80,643.80 L167.40,631.80 L167.80,594.30 L168.20,631.80 L168.70,646.80 L169.20,661.80 L169.90,669.80 L170.70,673.30 L174.30,675.00 L180.30,676.60 L185.30,677.00 L187.80,675.80 L189.50,671.80 L190.80,675.80 L192.80,679.80 L196.30,680.50 L210.30,681.00 L220.30,680.70 L225.30,681.20 L239.90,681.40 L239.90,681.80 Z" fill="#7e7e7e" stroke="#2a2a2a" stroke-width="0.8" stroke-linejoin="round"/>
<line x1="167.80" y1="594.80" x2="167.80" y2="678.80" stroke="#2a2a2a" stroke-width="1.5"/>
<line x1="240.20" y1="666.80" x2="240.20" y2="681.80" stroke="#222" stroke-width="1.2"/>
<line x1="140.30" y1="681.80" x2="240.80" y2="681.80" stroke="#333" stroke-width="1.1"/>
<line x1="141.90" y1="681.80" x2="141.90" y2="684.20" stroke="#444" stroke-width="0.9"/>
<line x1="146.56" y1="681.80" x2="146.56" y2="683.10" stroke="#888" stroke-width="0.6"/>
<line x1="151.22" y1="681.80" x2="151.22" y2="683.10" stroke="#888" stroke-width="0.6"/>
<line x1="155.88" y1="681.80" x2="155.88" y2="683.10" stroke="#888" stroke-width="0.6"/>
<line x1="160.54" y1="681.80" x2="160.54" y2="683.10" stroke="#888" stroke-width="0.6"/>
<line x1="165.20" y1="681.80" x2="165.20" y2="684.20" stroke="#444" stroke-width="0.9"/>
<line x1="169.86" y1="681.80" x2="169.86" y2="683.10" stroke="#888" stroke-width="0.6"/>
<line x1="174.52" y1="681.80" x2="174.52" y2="683.10" stroke="#888" stroke-width="0.6"/>
<line x1="179.18" y1="681.80" x2="179.18" y2="683.10" stroke="#888" stroke-width="0.6"/>
<line x1="183.84" y1="681.80" x2="183.84" y2="683.10" stroke="#888" stroke-width="0.6"/>
<line x1="188.50" y1="681.80" x2="188.50" y2="684.20" stroke="#444" stroke-width="0.9"/>
<line x1="193.16" y1="681.80" x2="193.16" y2="683.10" stroke="#888" stroke-width="0.6"/>
<line x1="197.82" y1="681.80" x2="197.82" y2="683.10" stroke="#888" stroke-width="0.6"/>
<line x1="202.48" y1="681.80" x2="202.48" y2="683.10" stroke="#888" stroke-width="0.6"/>
<line x1="207.14" y1="681.80" x2="207.14" y2="683.10" stroke="#888" stroke-width="0.6"/>
<line x1="211.80" y1="681.80" x2="211.80" y2="684.20" stroke="#444" stroke-width="0.9"/>
<line x1="216.46" y1="681.80" x2="216.46" y2="683.10" stroke="#888" stroke-width="0.6"/>
<line x1="221.12" y1="681.80" x2="221.12" y2="683.10" stroke="#888" stroke-width="0.6"/>
<line x1="225.78" y1="681.80" x2="225.78" y2="683.10" stroke="#888" stroke-width="0.6"/>
<line x1="230.44" y1="681.80" x2="230.44" y2="683.10" stroke="#888" stroke-width="0.6"/>
<line x1="235.10" y1="681.80" x2="235.10" y2="684.20" stroke="#444" stroke-width="0.9"/>
<line x1="239.76" y1="681.80" x2="239.76" y2="683.10" stroke="#888" stroke-width="0.6"/>
<text class="h2" x="106.30" y="481.40" font-size="7.0" font-weight="bold" text-anchor="start" fill="#000">Veh</text>
<text class="h2" x="202.30" y="482.30" font-size="6.95" font-weight="bold" text-anchor="start" fill="#000">AZD1552</text>
<text class="h2" x="202.30" y="490.30" font-size="6.95" font-weight="bold" text-anchor="start" fill="#000">25 mg/kg</text>
<text class="h2" x="94.40" y="593.40" font-size="6.95" font-weight="bold" text-anchor="start" fill="#000">AZD2811</text>
<text class="h2" x="94.40" y="601.20" font-size="6.95" font-weight="bold" text-anchor="start" fill="#000">25 mg/kg</text>
<text class="h2" x="196.30" y="593.40" font-size="6.95" font-weight="bold" text-anchor="start" fill="#000">AZD2811</text>
<text class="h2" x="196.30" y="601.30" font-size="6.95" font-weight="bold" text-anchor="start" fill="#000">98.7 mg/kg</text>
<rect x="54.3" y="521.0" width="9.0" height="14.7" fill="#fff"/>
<rect x="56.2" y="631.5" width="10.3" height="14.5" fill="#fff"/>
<rect x="167.7" y="631.5" width="10.3" height="15.5" fill="#fff"/>
<text x="66.25" y="506.26" font-size="4.9" font-weight="normal" text-anchor="middle" fill="#2a2a2a">S</text>
<text x="66.25" y="512.51" font-size="4.9" font-weight="normal" text-anchor="middle" fill="#2a2a2a">13.5</text>
<text x="58.75" y="527.26" font-size="4.9" font-weight="normal" text-anchor="middle" fill="#2a2a2a">G1</text>
<text x="58.70" y="533.06" font-size="4.9" font-weight="normal" text-anchor="middle" fill="#2a2a2a">40.9</text>
<text x="42.50" y="546.26" font-size="4.9" font-weight="normal" text-anchor="middle" fill="#2a2a2a">Sub-G<tspan dy="1.2" font-size="3.2">1</tspan><tspan dy="-1.2">–G</tspan><tspan dy="1.2" font-size="3.2">0</tspan></text>
<text x="42.00" y="552.76" font-size="4.9" font-weight="normal" text-anchor="middle" fill="#2a2a2a">15.7</text>
<text x="76.75" y="543.51" font-size="4.9" font-weight="normal" text-anchor="middle" fill="#2a2a2a">G<tspan dy="1.2" font-size="3.2">2</tspan><tspan dy="-1.2">–M</tspan></text>
<text x="77.00" y="550.51" font-size="4.9" font-weight="normal" text-anchor="middle" fill="#2a2a2a">9.99</text>
<text x="105.60" y="543.51" font-size="4.9" font-weight="normal" text-anchor="middle" fill="#2a2a2a">&gt;4 n</text>
<text x="105.50" y="550.51" font-size="4.9" font-weight="normal" text-anchor="middle" fill="#2a2a2a">5.84</text>
<text x="176.90" y="506.76" font-size="4.9" font-weight="normal" text-anchor="middle" fill="#2a2a2a">S</text>
<text x="177.20" y="512.96" font-size="4.9" font-weight="normal" text-anchor="middle" fill="#2a2a2a">12.5</text>
<text x="172.70" y="529.76" font-size="4.9" font-weight="normal" text-anchor="middle" fill="#2a2a2a">G1</text>
<text x="172.70" y="535.56" font-size="4.9" font-weight="normal" text-anchor="middle" fill="#2a2a2a">52.3</text>
<text x="151.90" y="551.36" font-size="4.9" font-weight="normal" text-anchor="middle" fill="#2a2a2a">Sub-G<tspan dy="1.2" font-size="3.2">1</tspan><tspan dy="-1.2">–G</tspan><tspan dy="1.2" font-size="3.2">0</tspan></text>
<text x="151.50" y="557.76" font-size="4.9" font-weight="normal" text-anchor="middle" fill="#2a2a2a">8.00</text>
<text x="187.60" y="544.66" font-size="4.9" font-weight="normal" text-anchor="middle" fill="#2a2a2a">G<tspan dy="1.2" font-size="3.2">2</tspan><tspan dy="-1.2">–M</tspan></text>
<text x="186.80" y="550.96" font-size="4.9" font-weight="normal" text-anchor="middle" fill="#2a2a2a">8.89</text>
<text x="216.20" y="544.66" font-size="4.9" font-weight="normal" text-anchor="middle" fill="#2a2a2a">&gt;4 n</text>
<text x="216.00" y="550.96" font-size="4.9" font-weight="normal" text-anchor="middle" fill="#2a2a2a">7.36</text>
<text x="66.25" y="614.46" font-size="4.9" font-weight="normal" text-anchor="middle" fill="#2a2a2a">S</text>
<text x="66.25" y="621.16" font-size="4.9" font-weight="normal" text-anchor="middle" fill="#2a2a2a">8.16</text>
<text x="62.00" y="638.16" font-size="4.9" font-weight="normal" text-anchor="middle" fill="#2a2a2a">G1</text>
<text x="62.30" y="644.66" font-size="4.9" font-weight="normal" text-anchor="middle" fill="#2a2a2a">39.5</text>
<text x="41.30" y="659.26" font-size="4.9" font-weight="normal" text-anchor="middle" fill="#2a2a2a">Sub-G<tspan dy="1.2" font-size="3.2">1</tspan><tspan dy="-1.2">–G</tspan><tspan dy="1.2" font-size="3.2">0</tspan></text>
<text x="39.60" y="665.16" font-size="4.9" font-weight="normal" text-anchor="middle" fill="#2a2a2a">25.9</text>
<text x="76.80" y="652.46" font-size="4.9" font-weight="normal" text-anchor="middle" fill="#2a2a2a">G<tspan dy="1.2" font-size="3.2">2</tspan><tspan dy="-1.2">–M</tspan></text>
<text x="76.80" y="658.16" font-size="4.9" font-weight="normal" text-anchor="middle" fill="#2a2a2a">7.00</text>
<text x="105.40" y="651.86" font-size="4.9" font-weight="normal" text-anchor="middle" fill="#2a2a2a">&gt;4 n</text>
<text x="105.30" y="658.16" font-size="4.9" font-weight="normal" text-anchor="middle" fill="#2a2a2a">33.54</text>
<text x="153.50" y="614.46" font-size="4.9" font-weight="normal" text-anchor="middle" fill="#2a2a2a">Sub-G<tspan dy="1.2" font-size="3.2">1</tspan><tspan dy="-1.2">–G</tspan><tspan dy="1.2" font-size="3.2">0</tspan></text>
<text x="152.30" y="621.16" font-size="4.9" font-weight="normal" text-anchor="middle" fill="#2a2a2a">50.6</text>
<text x="176.90" y="614.86" font-size="4.9" font-weight="normal" text-anchor="middle" fill="#2a2a2a">S</text>
<text x="176.90" y="621.16" font-size="4.9" font-weight="normal" text-anchor="middle" fill="#2a2a2a">6.89</text>
<text x="172.70" y="638.16" font-size="4.9" font-weight="normal" text-anchor="middle" fill="#2a2a2a">G1</text>
<text x="172.70" y="644.46" font-size="4.9" font-weight="normal" text-anchor="middle" fill="#2a2a2a">26.3</text>
<text x="187.25" y="652.96" font-size="4.9" font-weight="normal" text-anchor="middle" fill="#2a2a2a">G<tspan dy="1.2" font-size="3.2">2</tspan><tspan dy="-1.2">–M</tspan></text>
<text x="186.80" y="658.86" font-size="4.9" font-weight="normal" text-anchor="middle" fill="#2a2a2a">6.65</text>
<text x="217.50" y="652.96" font-size="4.9" font-weight="normal" text-anchor="middle" fill="#2a2a2a">&gt;4 n</text>
<text x="217.40" y="658.86" font-size="4.9" font-weight="normal" text-anchor="middle" fill="#2a2a2a">3.78</text>
<line x1="30.50" y1="563.25" x2="48.00" y2="563.25" stroke="#111" stroke-width="0.9"/>
<line x1="30.50" y1="561.45" x2="30.50" y2="565.05" stroke="#111" stroke-width="0.9"/>
<line x1="48.00" y1="561.45" x2="48.00" y2="565.05" stroke="#111" stroke-width="0.9"/>
<line x1="51.25" y1="550.75" x2="57.00" y2="550.75" stroke="#111" stroke-width="0.9"/>
<line x1="51.25" y1="548.95" x2="51.25" y2="552.55" stroke="#111" stroke-width="0.9"/>
<line x1="57.00" y1="548.95" x2="57.00" y2="552.55" stroke="#111" stroke-width="0.9"/>
<line x1="58.25" y1="555.75" x2="82.50" y2="555.75" stroke="#111" stroke-width="0.9"/>
<line x1="58.25" y1="553.95" x2="58.25" y2="557.55" stroke="#111" stroke-width="0.9"/>
<line x1="82.50" y1="553.95" x2="82.50" y2="557.55" stroke="#111" stroke-width="0.9"/>
<circle cx="70.75" cy="555.75" r="1.2" fill="none" stroke="#111" stroke-width="0.8"/>
<line x1="83.75" y1="555.75" x2="128.75" y2="555.75" stroke="#111" stroke-width="0.9"/>
<line x1="83.75" y1="553.95" x2="83.75" y2="557.55" stroke="#111" stroke-width="0.9"/>
<line x1="128.75" y1="553.95" x2="128.75" y2="557.55" stroke="#111" stroke-width="0.9"/>
<line x1="141.30" y1="562.70" x2="158.70" y2="562.70" stroke="#111" stroke-width="0.9"/>
<line x1="141.30" y1="560.90" x2="141.30" y2="564.50" stroke="#111" stroke-width="0.9"/>
<line x1="158.70" y1="560.90" x2="158.70" y2="564.50" stroke="#111" stroke-width="0.9"/>
<line x1="162.50" y1="550.30" x2="168.80" y2="550.30" stroke="#111" stroke-width="0.9"/>
<line x1="162.50" y1="548.50" x2="162.50" y2="552.10" stroke="#111" stroke-width="0.9"/>
<line x1="168.80" y1="548.50" x2="168.80" y2="552.10" stroke="#111" stroke-width="0.9"/>
<line x1="169.90" y1="556.00" x2="193.20" y2="556.00" stroke="#111" stroke-width="0.9"/>
<line x1="169.90" y1="554.20" x2="169.90" y2="557.80" stroke="#111" stroke-width="0.9"/>
<line x1="193.20" y1="554.20" x2="193.20" y2="557.80" stroke="#111" stroke-width="0.9"/>
<circle cx="182.00" cy="556.00" r="1.2" fill="none" stroke="#111" stroke-width="0.8"/>
<line x1="195.30" y1="556.00" x2="240.10" y2="556.00" stroke="#111" stroke-width="0.9"/>
<line x1="195.30" y1="554.20" x2="195.30" y2="557.80" stroke="#111" stroke-width="0.9"/>
<line x1="240.10" y1="554.20" x2="240.10" y2="557.80" stroke="#111" stroke-width="0.9"/>
<line x1="31.00" y1="671.30" x2="47.80" y2="671.30" stroke="#111" stroke-width="0.9"/>
<line x1="31.00" y1="669.50" x2="31.00" y2="673.10" stroke="#111" stroke-width="0.9"/>
<line x1="47.80" y1="669.50" x2="47.80" y2="673.10" stroke="#111" stroke-width="0.9"/>
<line x1="52.00" y1="658.60" x2="57.80" y2="658.60" stroke="#111" stroke-width="0.9"/>
<line x1="52.00" y1="656.80" x2="52.00" y2="660.40" stroke="#111" stroke-width="0.9"/>
<line x1="57.80" y1="656.80" x2="57.80" y2="660.40" stroke="#111" stroke-width="0.9"/>
<line x1="58.40" y1="663.40" x2="82.10" y2="663.40" stroke="#111" stroke-width="0.9"/>
<line x1="58.40" y1="661.60" x2="58.40" y2="665.20" stroke="#111" stroke-width="0.9"/>
<line x1="82.10" y1="661.60" x2="82.10" y2="665.20" stroke="#111" stroke-width="0.9"/>
<circle cx="70.50" cy="663.40" r="1.2" fill="none" stroke="#111" stroke-width="0.8"/>
<line x1="84.20" y1="663.40" x2="128.70" y2="663.40" stroke="#111" stroke-width="0.9"/>
<line x1="84.20" y1="661.60" x2="84.20" y2="665.20" stroke="#111" stroke-width="0.9"/>
<line x1="128.70" y1="661.60" x2="128.70" y2="665.20" stroke="#111" stroke-width="0.9"/>
<line x1="142.40" y1="671.90" x2="158.70" y2="671.90" stroke="#111" stroke-width="0.9"/>
<line x1="142.40" y1="670.10" x2="142.40" y2="673.70" stroke="#111" stroke-width="0.9"/>
<line x1="158.70" y1="670.10" x2="158.70" y2="673.70" stroke="#111" stroke-width="0.9"/>
<line x1="162.50" y1="659.00" x2="168.80" y2="659.00" stroke="#111" stroke-width="0.9"/>
<line x1="162.50" y1="657.20" x2="162.50" y2="660.80" stroke="#111" stroke-width="0.9"/>
<line x1="168.80" y1="657.20" x2="168.80" y2="660.80" stroke="#111" stroke-width="0.9"/>
<line x1="169.90" y1="664.30" x2="193.20" y2="664.30" stroke="#111" stroke-width="0.9"/>
<line x1="169.90" y1="662.50" x2="169.90" y2="666.10" stroke="#111" stroke-width="0.9"/>
<line x1="193.20" y1="662.50" x2="193.20" y2="666.10" stroke="#111" stroke-width="0.9"/>
<circle cx="182.00" cy="664.30" r="1.2" fill="none" stroke="#111" stroke-width="0.8"/>
<line x1="195.30" y1="664.30" x2="239.70" y2="664.30" stroke="#111" stroke-width="0.9"/>
<line x1="195.30" y1="662.50" x2="195.30" y2="666.10" stroke="#111" stroke-width="0.9"/>
<line x1="239.70" y1="662.50" x2="239.70" y2="666.10" stroke="#111" stroke-width="0.9"/>
<line x1="22.70" y1="693.10" x2="22.70" y2="515.50" stroke="#000" stroke-width="1.9"/>
<path d="M22.7,510.4 L19.8,516.4 L25.6,516.4 Z" fill="#000" stroke="none" stroke-width="1"/>
<line x1="21.75" y1="693.10" x2="232.80" y2="693.10" stroke="#000" stroke-width="1.9"/>
<path d="M237.6,693.1 L232.2,690.2 L232.2,696.0 Z" fill="#000" stroke="none" stroke-width="1"/>
<text x="18.40" y="603.80" font-size="11.0" font-weight="normal" text-anchor="middle" fill="#1a1a1a" transform="rotate(-90 18.4 603.8)">Counts</text>
<text x="126.50" y="707.60" font-size="11.1" font-weight="normal" text-anchor="middle" fill="#1a1a1a">DNA content (PI)</text>
<text class="h" x="0" y="0" font-size="16" font-weight="bold" fill="#000" transform="translate(286.0 487.6) scale(0.94 1)">E</text>
<text x="366.00" y="496.10" font-size="6.5" font-weight="bold" text-anchor="middle" fill="#111" class="h2">48 h</text>
<rect x="311.95" y="611.39" width="20.60" height="25.81" fill="#000000"/>
<rect x="311.95" y="548.39" width="20.60" height="62.70" fill="#aaaaaa"/>
<rect x="311.95" y="531.51" width="20.60" height="16.58" fill="#888888"/>
<rect x="311.95" y="519.41" width="20.60" height="11.80" fill="#dcdcdc"/>
<rect x="311.95" y="511.20" width="20.60" height="7.91" fill="#666666"/>
<rect x="343.70" y="622.10" width="20.60" height="15.10" fill="#000000"/>
<rect x="343.70" y="551.17" width="20.60" height="70.64" fill="#aaaaaa"/>
<rect x="343.70" y="533.15" width="20.60" height="17.72" fill="#888888"/>
<rect x="343.70" y="519.86" width="20.60" height="12.99" fill="#dcdcdc"/>
<rect x="343.70" y="511.20" width="20.60" height="8.36" fill="#666666"/>
<rect x="375.10" y="588.21" width="20.60" height="48.99" fill="#000000"/>
<rect x="375.10" y="537.68" width="20.60" height="50.23" fill="#aaaaaa"/>
<rect x="375.10" y="527.60" width="20.60" height="9.78" fill="#888888"/>
<rect x="375.10" y="517.65" width="20.60" height="9.65" fill="#dcdcdc"/>
<rect x="375.10" y="511.20" width="20.60" height="6.15" fill="#666666"/>
<rect x="406.80" y="566.92" width="20.60" height="70.28" fill="#000000"/>
<rect x="406.80" y="533.15" width="20.60" height="33.47" fill="#aaaaaa"/>
<rect x="406.80" y="524.96" width="20.60" height="7.89" fill="#888888"/>
<rect x="406.80" y="518.91" width="20.60" height="5.75" fill="#dcdcdc"/>
<rect x="406.80" y="511.20" width="20.60" height="7.41" fill="#666666"/>
<line x1="306.80" y1="511.20" x2="306.80" y2="638.00" stroke="#000" stroke-width="1.5"/>
<line x1="306.10" y1="637.20" x2="432.30" y2="637.20" stroke="#000" stroke-width="1.5"/>
<line x1="303.20" y1="637.20" x2="306.80" y2="637.20" stroke="#000" stroke-width="1.2"/>
<text x="300.40" y="639.30" font-size="5.8" font-weight="bold" text-anchor="end" fill="#222" class="h2">0</text>
<line x1="303.20" y1="612.00" x2="306.80" y2="612.00" stroke="#000" stroke-width="1.2"/>
<text x="300.40" y="614.10" font-size="5.8" font-weight="bold" text-anchor="end" fill="#222" class="h2">20</text>
<line x1="303.20" y1="586.80" x2="306.80" y2="586.80" stroke="#000" stroke-width="1.2"/>
<text x="300.40" y="588.90" font-size="5.8" font-weight="bold" text-anchor="end" fill="#222" class="h2">40</text>
<line x1="303.20" y1="561.60" x2="306.80" y2="561.60" stroke="#000" stroke-width="1.2"/>
<text x="300.40" y="563.70" font-size="5.8" font-weight="bold" text-anchor="end" fill="#222" class="h2">60</text>
<line x1="303.20" y1="536.40" x2="306.80" y2="536.40" stroke="#000" stroke-width="1.2"/>
<text x="300.40" y="538.50" font-size="5.8" font-weight="bold" text-anchor="end" fill="#222" class="h2">80</text>
<line x1="303.20" y1="511.20" x2="306.80" y2="511.20" stroke="#000" stroke-width="1.2"/>
<text x="300.40" y="513.30" font-size="5.8" font-weight="bold" text-anchor="end" fill="#222" class="h2">100</text>
<line x1="322.25" y1="637.20" x2="322.25" y2="640.20" stroke="#000" stroke-width="1.1"/>
<line x1="354.00" y1="637.20" x2="354.00" y2="640.20" stroke="#000" stroke-width="1.1"/>
<line x1="385.40" y1="637.20" x2="385.40" y2="640.20" stroke="#000" stroke-width="1.1"/>
<line x1="417.10" y1="637.20" x2="417.10" y2="640.20" stroke="#000" stroke-width="1.1"/>
<text x="281.40" y="574.10" font-size="7.3" font-weight="normal" text-anchor="middle" fill="#333" transform="rotate(-90 281.4 574.1)">Cell cycle (%)</text>
<text class="h2" x="0" y="0" font-size="4.75" font-weight="bold" text-anchor="middle" fill="#111" transform="translate(310.71 650.91) rotate(-45)">Vehicle</text>
<text class="h2" x="0" y="0" font-size="4.75" font-weight="bold" text-anchor="middle" fill="#111" transform="translate(320.11 658.11) rotate(-45)">(BIND Placebo)</text>
<text class="h2" x="0" y="0" font-size="4.75" font-weight="bold" text-anchor="middle" fill="#111" transform="translate(348.31 653.11) rotate(-45)">AZD1152</text>
<text class="h2" x="0" y="0" font-size="4.75" font-weight="bold" text-anchor="middle" fill="#111" transform="translate(357.11 661.21) rotate(-45)">25 mg/kg</text>
<text class="h2" x="0" y="0" font-size="4.75" font-weight="bold" text-anchor="middle" fill="#111" transform="translate(380.31 653.41) rotate(-45)">AZD2811</text>
<text class="h2" x="0" y="0" font-size="4.75" font-weight="bold" text-anchor="middle" fill="#111" transform="translate(388.71 661.21) rotate(-45)">25 mg/kg</text>
<text class="h2" x="0" y="0" font-size="4.75" font-weight="bold" text-anchor="middle" fill="#111" transform="translate(412.31 652.71) rotate(-45)">AZD2811</text>
<text class="h2" x="0" y="0" font-size="4.75" font-weight="bold" text-anchor="middle" fill="#111" transform="translate(420.71 660.11) rotate(-45)">98 mg/kg</text>
<rect x="452.00" y="515.00" width="13.40" height="6.40" fill="#666666"/>
<text x="473.10" y="522.20" font-size="6.7" font-weight="normal" text-anchor="start" fill="#222">&gt; 4 n</text>
<rect x="452.00" y="529.55" width="13.40" height="6.40" fill="#dcdcdc"/>
<text x="473.10" y="536.75" font-size="6.7" font-weight="normal" text-anchor="start" fill="#222">G<tspan dy="1.5" font-size="4.2">2</tspan><tspan dy="-1.5">–M</tspan></text>
<rect x="452.00" y="544.10" width="13.40" height="6.40" fill="#888888"/>
<text x="473.10" y="551.30" font-size="6.7" font-weight="normal" text-anchor="start" fill="#222">S</text>
<rect x="452.00" y="558.65" width="13.40" height="6.40" fill="#aaaaaa"/>
<text x="473.10" y="565.85" font-size="6.7" font-weight="normal" text-anchor="start" fill="#222">G1</text>
<rect x="452.00" y="573.20" width="13.40" height="6.40" fill="#000000"/>
<text x="473.10" y="580.40" font-size="6.7" font-weight="normal" text-anchor="start" fill="#222">Sub-G<tspan dy="1.5" font-size="4.2">0</tspan><tspan dy="-1.5">–G</tspan><tspan dy="1.5" font-size="4.2">1</tspan></text>
</svg>
</body></html>
